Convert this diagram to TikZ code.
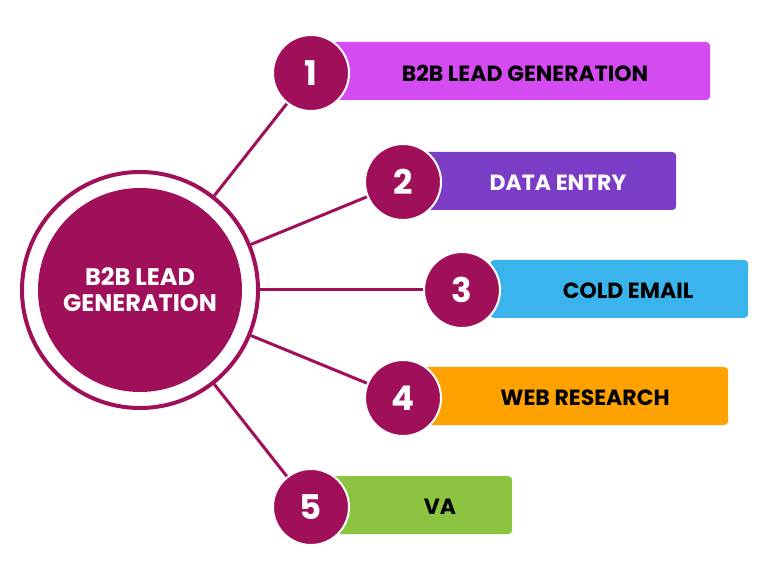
\documentclass[tikz,border=0pt]{standalone}
\usepackage{fontspec}
\setmainfont{Poppins}
\usetikzlibrary{positioning,calc}
\definecolor{hubred}{HTML}{A0105A}
\definecolor{barpink}{HTML}{D54BF2}
\definecolor{barpurple}{HTML}{7B3DC6}
\definecolor{barblue}{HTML}{3BB4EE}
\definecolor{barorange}{HTML}{FFA200}
\definecolor{bargreen}{HTML}{8CC43F}
\tikzset{
  bar/.style={rounded corners=4pt, minimum height=58pt, anchor=west, inner sep=0pt},
  bartext/.style={font=\bfseries\fontsize{22}{24}\selectfont},
  num/.style={circle, fill=hubred, draw=white, line width=2pt, minimum size=76pt,
              text=white, font=\bfseries\fontsize{34}{36}\selectfont},
  link/.style={draw=hubred, line width=3pt}
}
\begin{document}
\begin{tikzpicture}[x=1pt,y=1pt]
\useasboundingbox (0,0) rectangle (768,576);
% hub
\node[circle, draw=hubred, line width=4pt, fill=white, minimum size=236pt] (hubring) at (140,286) {};
\node[circle, fill=hubred, minimum size=204pt, text=white, align=center,
      font=\bfseries\fontsize{24}{26}\selectfont] (hub) at (140,286) {B2B LEAD\\GENERATION};
% bars
\node[bar, fill=barpink, minimum width=380pt] (bar1) at (330,505) {};
\node[bar, fill=barpurple, minimum width=256pt] (bar2) at (420,395) {};
\node[bar, fill=barblue, minimum width=258pt] (bar3) at (490,287) {};
\node[bar, fill=barorange, minimum width=308pt] (bar4) at (420,180) {};
\node[bar, fill=bargreen, minimum width=182pt] (bar5) at (330,71) {};
\node[bartext] at (525,503) {B2B LEAD GENERATION};
\node[bartext, text=white] at (558,393) {DATA ENTRY};
\node[bartext] at (628,285) {COLD EMAIL};
\node[bartext] at (585,178) {WEB RESEARCH};
\node[bartext] at (440,69) {VA};
% links
\coordinate (c1) at (311,503);
\coordinate (c2) at (403,394);
\coordinate (c3) at (462,286);
\coordinate (c4) at (403,178);
\coordinate (c5) at (311,69);
\foreach \i in {1,...,5}
  \path[link] (hubring) -- (c\i);
% numbers
\foreach \i in {1,...,5}
  \node[num] (n\i) at (c\i) {\i};
\end{tikzpicture}
\end{document}
